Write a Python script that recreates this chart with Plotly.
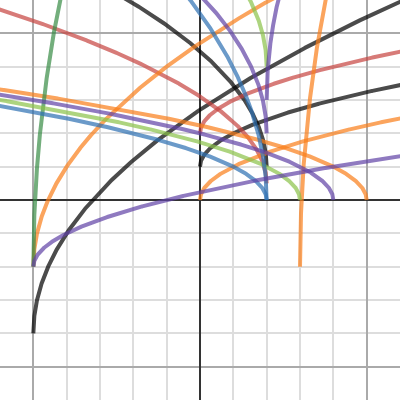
import numpy as np
import plotly.graph_objects as go

# curves of form y = a + sqrt(k * s * (x - h)), s = +1 (opens right) or -1 (opens left)
names  = ["A","B","C","R1","R2","O1","O2","O3","O4","G1","G2","G3","B1","B2","P1","P2","P3","P4"]
colors = ["#000000","#000000","#000000","#c74440","#c74440","#fa7e19","#fa7e19","#fa7e19","#fa7e19",
          "#388c46","#8bc34a","#8bc34a","#2d70b3","#2d70b3","#6042a6","#6042a6","#6042a6","#6042a6"]
a_vals = [-4, 1, 1, 0.5, 2, -2, 0, -2, 0, -2, 4, 0, 0, 0, -2, 0, 3, 2]
h_vals = [-5, 0, 2, 2, 0, -5, 5, 3, 0, -5, 2, 3, 2, 2, -5, 4, 2, 2]
k_vals = [9, 1, 6, 3.4, 1, 9, 1, 85, 1, 80, 8, 1, 15.7, 1, 1, 1, 26, 8.6]
s_vals = [1, 1, -1, -1, 1, 1, -1, 1, 1, 1, -1, -1, -1, -1, 1, -1, 1, -1]

fig = go.Figure()
for n, c, a, h, k, s in zip(names, colors, a_vals, h_vals, k_vals, s_vals):
    u = np.linspace(0, 1, 2000) ** 3 * 12
    x = h + s * u
    y = a + np.sqrt(k * u)
    m = (x >= -6.5) & (x <= 6.5) & (y <= 7)
    fig.add_trace(go.Scatter(x=x[m], y=y[m], mode="lines", name=n,
                             line=dict(color=c, width=4), opacity=0.7, hoverinfo="skip"))

ax = dict(range=[-6, 6], dtick=5, tick0=0, showgrid=True, gridcolor="#aaaaaa", gridwidth=1.5,
          minor=dict(dtick=1, showgrid=True, gridcolor="#dddddd", gridwidth=1.5),
          zeroline=True, zerolinecolor="#333333", zerolinewidth=2,
          showticklabels=False, ticks="", fixedrange=True)
fig.update_layout(width=400, height=400, margin=dict(l=0, r=0, t=0, b=0),
                  plot_bgcolor="white", paper_bgcolor="white", showlegend=False,
                  xaxis=ax, yaxis=ax)
fig.write_html("out.html", config={"displayModeBar": False},
               post_script="document.body.style.margin='0';document.body.style.overflow='hidden';")
